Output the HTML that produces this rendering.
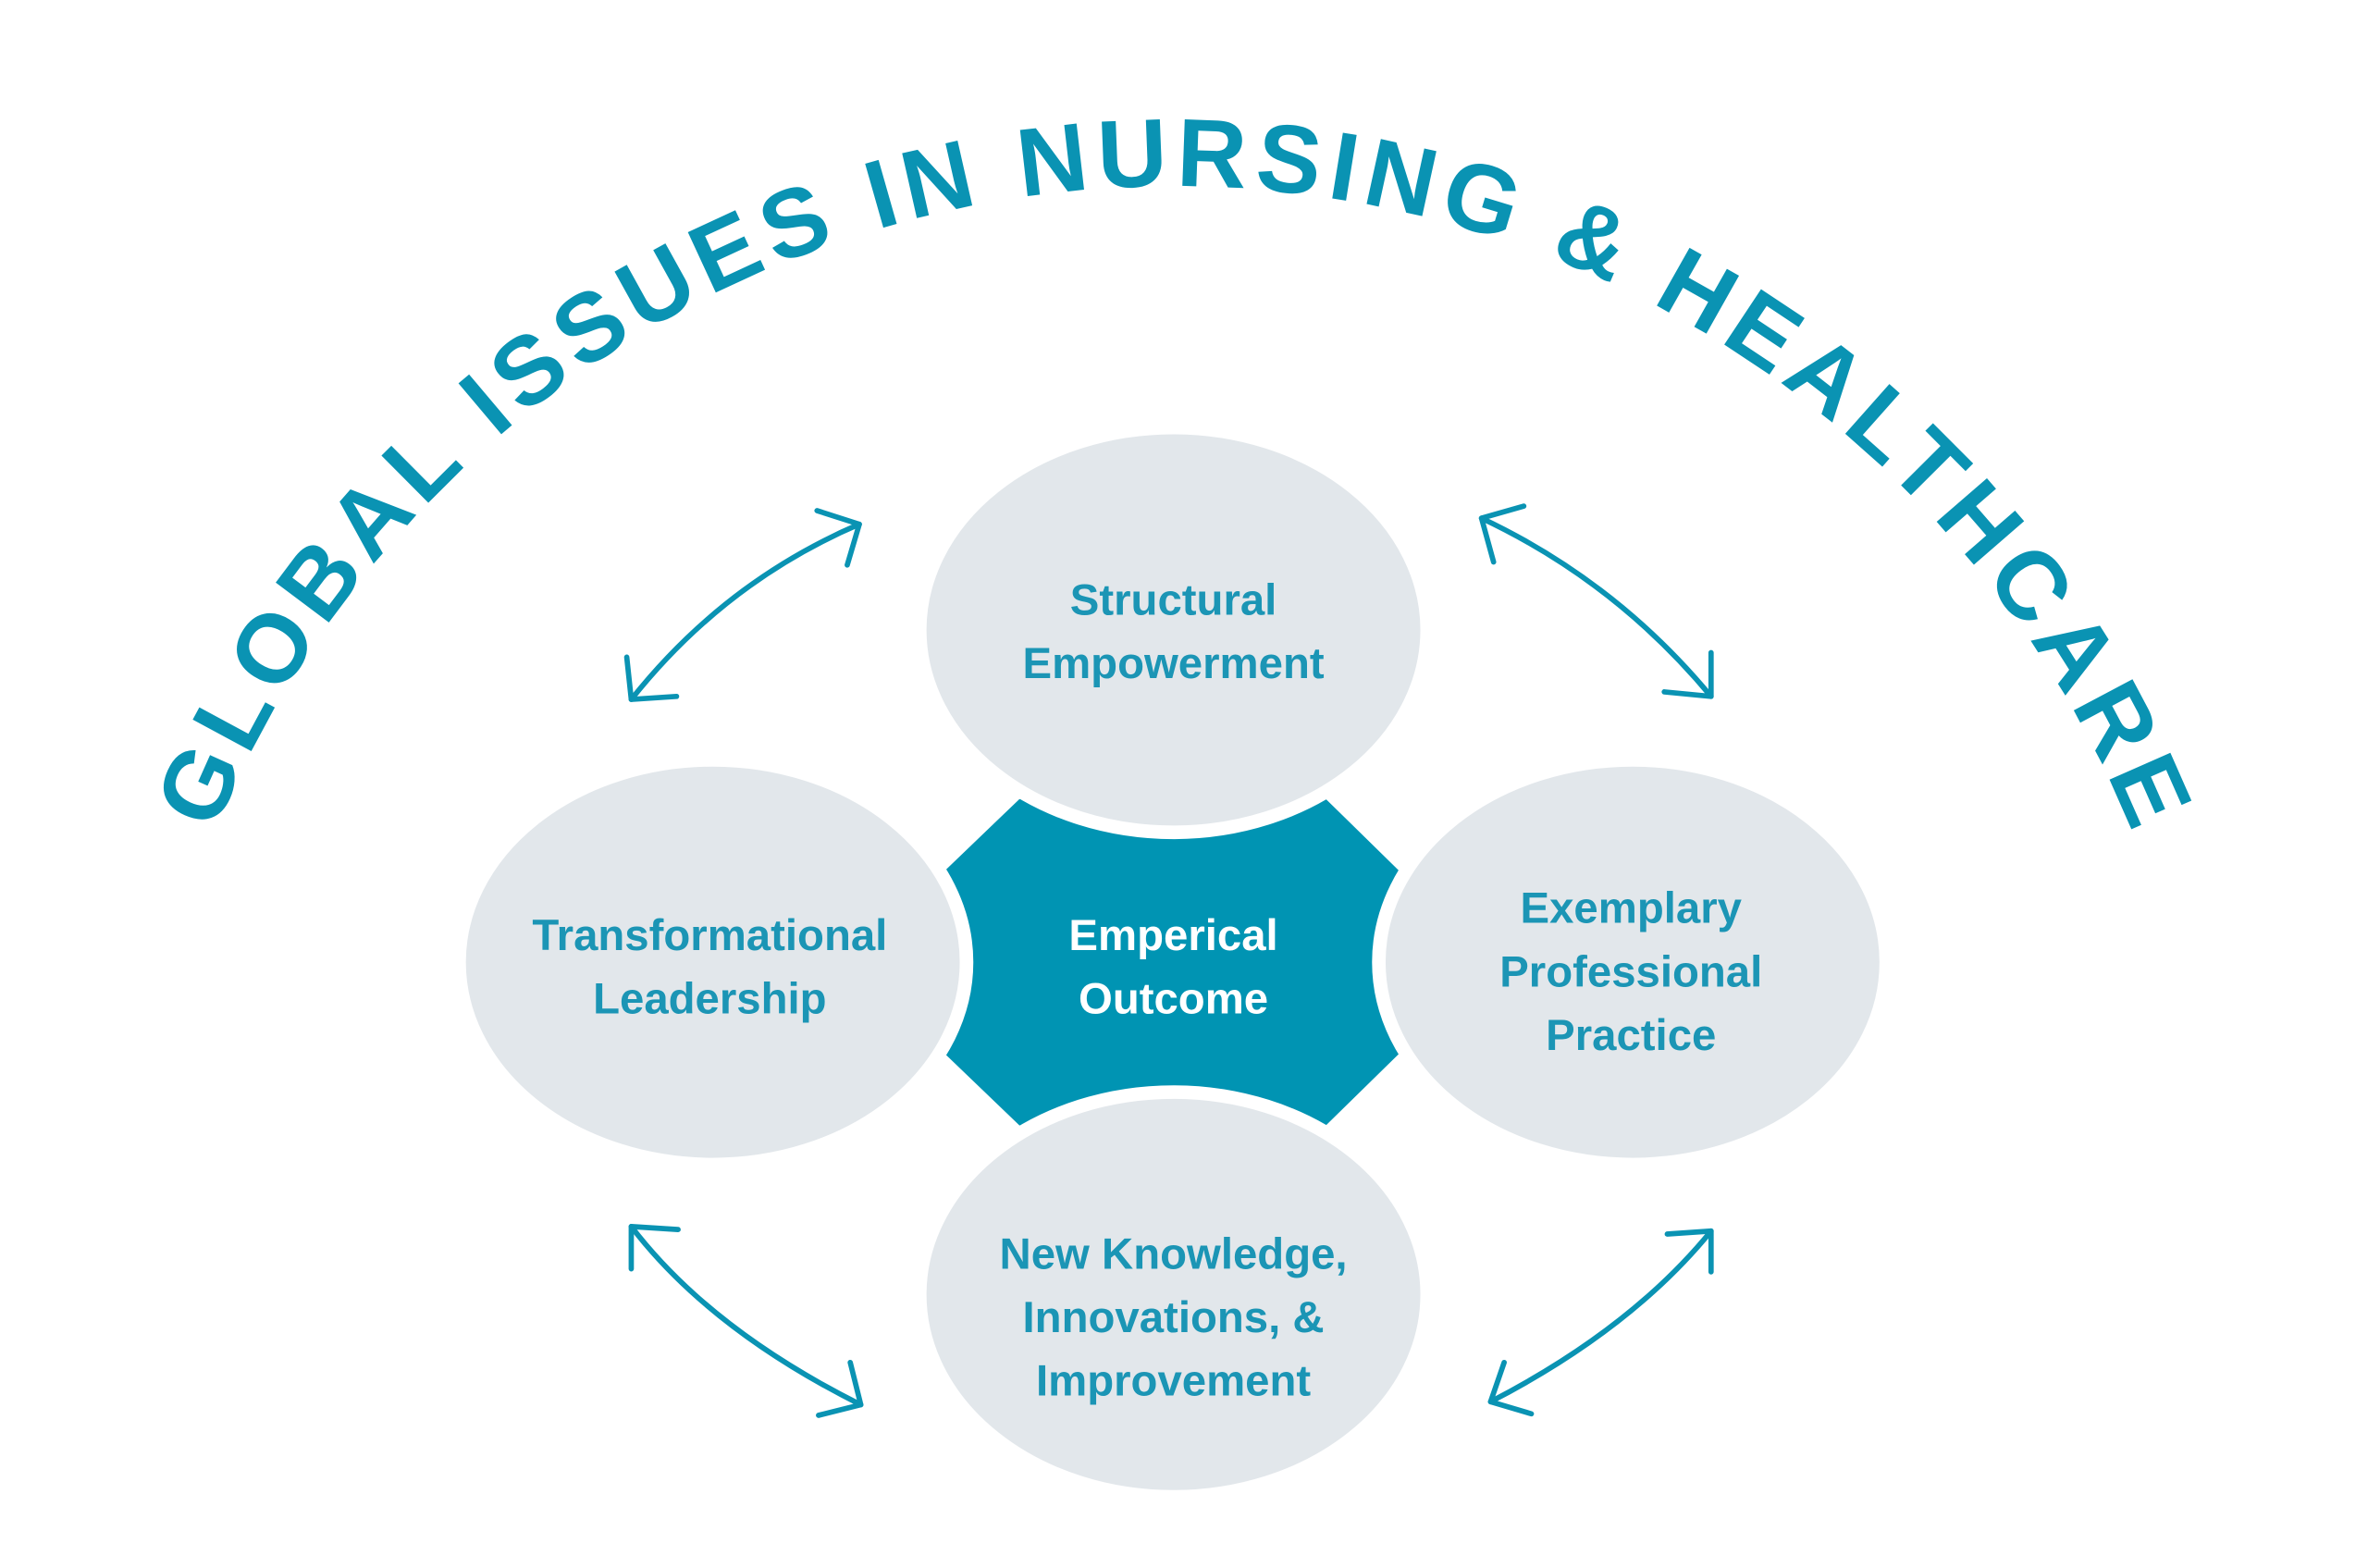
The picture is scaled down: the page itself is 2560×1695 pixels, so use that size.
<!DOCTYPE html>
<html><head><meta charset="utf-8"><style>
html,body{margin:0;padding:0;background:#fff;}
svg{display:block;}
.lbl{font-family:"Liberation Sans",sans-serif;font-weight:bold;font-size:29px;fill:#1b95b5;text-anchor:middle;}
</style></head><body>
<svg width="2560" height="1695" viewBox="0 0 1568 1038" xmlns="http://www.w3.org/2000/svg">
<rect width="1568" height="1038" fill="#fff"/>
<defs>
<path id="arc" d="M127,592 A685,685 0 0 1 1427,592"/>
</defs>
<text font-family="Liberation Sans, sans-serif" font-size="64" font-weight="bold" fill="#0a93b3">
<textPath href="#arc" startOffset="50%" text-anchor="middle" textLength="1625" lengthAdjust="spacing">GLOBAL ISSUES IN NURSING &amp; HEALTHCARE</textPath>
</text>
<polygon points="675,529 878,529 927,577 927,697 878,745 675,745 625,697 625,577" fill="#0094b3"/>
<g fill="#e2e7eb" stroke="#fff" stroke-width="9">
<ellipse cx="777" cy="417" rx="168" ry="134"/>
<ellipse cx="472" cy="637" rx="168" ry="134"/>
<ellipse cx="1081" cy="637" rx="168" ry="134"/>
<ellipse cx="777" cy="857" rx="168" ry="134"/>
</g>
<text class="lbl" x="777" y="407">Structural</text>
<text class="lbl" x="777" y="449">Empowerment</text>
<text class="lbl" x="470" y="629">Transformational</text>
<text class="lbl" x="470" y="671">Leadership</text>
<text class="lbl" x="777" y="629" style="fill:#fff">Emperical</text>
<text class="lbl" x="777" y="671" style="fill:#fff">Outcome</text>
<text class="lbl" x="1080" y="611">Exemplary</text>
<text class="lbl" x="1080" y="653">Professional</text>
<text class="lbl" x="1080" y="695">Practice</text>
<text class="lbl" x="777" y="840">New Knowledge,</text>
<text class="lbl" x="777" y="882">Innovations, &amp;</text>
<text class="lbl" x="777" y="924">Improvement</text>
<g fill="none" stroke="#0a93b3" stroke-width="3.5" stroke-linecap="round" stroke-linejoin="round">
<path d="M418,463 Q480,385 569,347"/><path d="M541,338 L569,347 L561,374"/><path d="M415,435 L418,463 L448,461"/>
<path d="M1133,461 Q1070,385 981,343"/><path d="M1009,335 L981,343 L989,372"/><path d="M1133,432 L1133,461 L1102,458"/>
<path d="M418,812 Q470,880 570,930"/><path d="M449,814 L418,812 L418,840"/><path d="M542,937 L570,930 L563,902"/>
<path d="M1133,815 Q1080,880 987,928"/><path d="M1104,817 L1133,815 L1133,842"/><path d="M1014,936 L987,928 L996,902"/>
</g>
</svg>
</body></html>
